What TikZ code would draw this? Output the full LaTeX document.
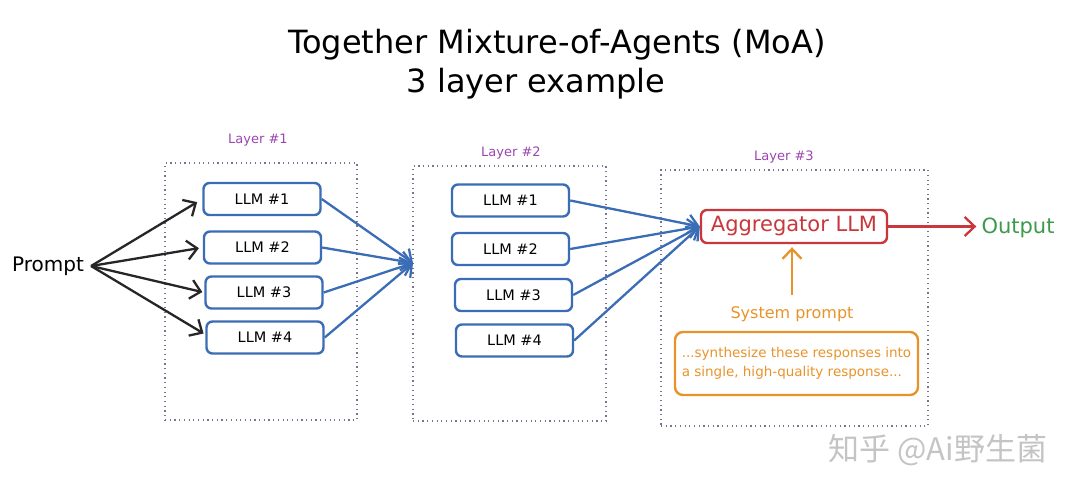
\documentclass[tikz,border=0pt]{standalone}
\usepackage{fontspec}
\setmainfont{DejaVu Sans}
\newfontfamily\cjkfont{Noto Sans CJK SC}
\usetikzlibrary{arrows.meta}
\definecolor{llmblue}{HTML}{3A6DB5}
\definecolor{aggred}{HTML}{C9363B}
\definecolor{outgreen}{HTML}{3D9A4C}
\definecolor{sysorange}{HTML}{E8932A}
\definecolor{laypurple}{HTML}{9B45B0}
\definecolor{dotgray}{HTML}{7F7090}
\definecolor{wmgray}{HTML}{C4C4C4}
\begin{document}
\begin{tikzpicture}[x=1pt,y=-1pt,
  llm/.style={draw=llmblue, line width=2.4pt, rounded corners=6pt, minimum width=117pt, minimum height=32pt, inner sep=0pt, font=\fontsize{14.5}{16}\selectfont},
  layerbox/.style={draw=dotgray, line width=1.2pt, dash pattern=on 1.2pt off 3.5pt, inner sep=0pt},
  layerlabel/.style={text=laypurple, font=\fontsize{13}{15}\selectfont},
  barb/.style={-{Straight Barb[length=10pt,width=19pt]}, line width=2.3pt},
  blk/.style={barb, draw=black!85},
  blu/.style={barb, draw=llmblue}
]
\useasboundingbox (0,0) rectangle (1080,491);

% title
\node (t1) at (557,45) {\fontsize{32}{36}\selectfont Together Mixture-of-Agents (MoA)};
\node (t2) at (536,84) {\fontsize{32}{36}\selectfont 3 layer example};

% layer boxes
\node[layerbox, minimum width=192pt, minimum height=257pt] (L1) at (261,291.5) {};
\node[layerbox, minimum width=193pt, minimum height=255pt] (L2) at (509.5,293.5) {};
\node[layerbox, minimum width=267pt, minimum height=256pt] (L3) at (794.5,298) {};
\node[layerlabel] (l1lab) at (258,140) {Layer \#1};
\node[layerlabel] (l2lab) at (511,153) {Layer \#2};
\node[layerlabel] (l3lab) at (784,157) {Layer \#3};

% layer 1 LLMs
\node[llm] (a1) at (262,199) {LLM \#1};
\node[llm] (a2) at (262.5,247.5) {LLM \#2};
\node[llm] (a3) at (264,292.5) {LLM \#3};
\node[llm] (a4) at (265,337.5) {LLM \#4};

% layer 2 LLMs
\node[llm] (b1) at (510.5,200.5) {LLM \#1};
\node[llm] (b2) at (510.5,249) {LLM \#2};
\node[llm] (b3) at (513.5,295) {LLM \#3};
\node[llm] (b4) at (514.5,340.5) {LLM \#4};

% prompt
\node[font=\fontsize{20}{22}\selectfont, inner ysep=2pt, inner xsep=7pt] (prompt) at (48,266) {Prompt};
\coordinate (c1) at (413,263);

% aggregator
\node[draw=aggred, line width=2.4pt, rounded corners=6pt, minimum width=186pt, minimum height=33pt, inner sep=0pt, text=aggred, font=\fontsize{21}{24}\selectfont] (agg) at (794,226.5) {Aggregator LLM};
\node[text=outgreen, font=\fontsize{21}{24}\selectfont, inner sep=2pt] (out) at (1018,228) {Output};

% system prompt
\node[text=sysorange, font=\fontsize{16}{19}\selectfont] (sys) at (792,314) {System prompt};
\node[draw=sysorange, line width=2.4pt, rounded corners=8pt, minimum width=243pt, minimum height=63pt, text=sysorange, align=left, font=\fontsize{13.5}{19}\selectfont] (sysbox) at (796.5,363.5) {...synthesize these responses into\\a single, high-quality response...};

% watermark
\node[text=wmgray, font=\cjkfont\fontsize{31}{34}\selectfont] (wm) at (938,450) {知乎 @Ai野生菌};

% connectors
\draw[blk, shorten >=6pt] (prompt.east) -- (a1.west);
\draw[blk, shorten >=4pt] (prompt.east) -- (a2.west);
\draw[blk, shorten >=2pt] (prompt.east) -- (a3.west);
\draw[blk, shorten >=2pt] (prompt.east) -- ([yshift=3pt]a4.west);

\draw[blu] (a1.east) -- (c1);
\draw[blu] (a2.east) -- (c1);
\draw[blu] (a3.east) -- (c1);
\draw[blu] (a4.east) -- (c1);

\draw[blu] (b1.east) -- (agg.west);
\draw[blu] (b2.east) -- (agg.west);
\draw[blu] (b3.east) -- (agg.west);
\draw[blu] (b4.east) -- (agg.west);

\draw[barb, draw=aggred, shorten >=3pt] (agg.east) -- (agg.east -| out.west);
\draw[barb, draw=sysorange, shorten <=8pt, shorten >=3pt] (sys.north) -- (sys.north |- agg.south);
\end{tikzpicture}
\end{document}
